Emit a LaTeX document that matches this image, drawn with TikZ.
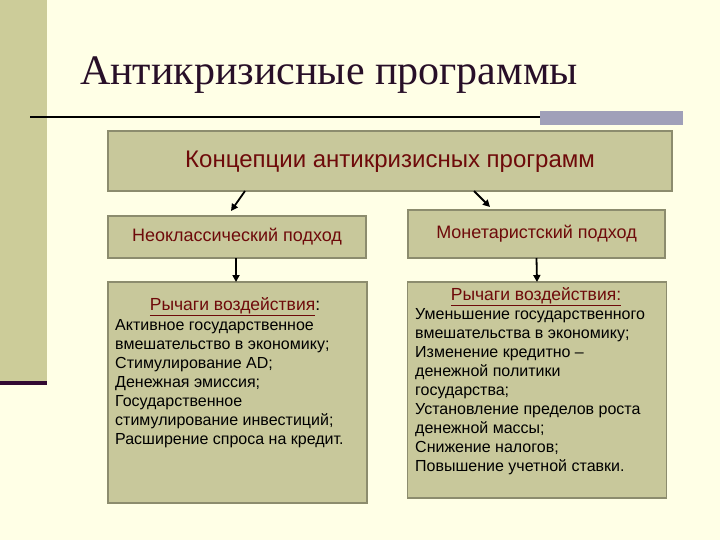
\documentclass[tikz,border=0pt]{standalone}
\usepackage{fontspec}
\setmainfont{Liberation Sans}
\newfontfamily\titlefont{Liberation Serif}
\usetikzlibrary{arrows.meta,calc}
\definecolor{bg}{RGB}{255,255,230}
\definecolor{olive}{RGB}{204,204,153}
\definecolor{boxfill}{RGB}{200,200,155}
\definecolor{boxline}{RGB}{140,140,110}
\definecolor{darkred}{RGB}{110,10,10}
\definecolor{titlecol}{RGB}{40,15,40}
\definecolor{barpurple}{RGB}{50,10,50}
\definecolor{graybar}{RGB}{160,160,185}
\tikzset{
  box/.style={draw=boxline, line width=1.6pt, fill=boxfill, inner sep=0pt, outer sep=0pt},
  hdr/.style={text=darkred, font=\fontsize{18}{21}\selectfont},
  lever/.style={text=darkred, font=\fontsize{17.5}{21}\selectfont},
  body/.style={anchor=north west, align=left, inner sep=0pt, font=\fontsize{16}{19}\selectfont},
  arr/.style={-{Triangle[length=7pt,width=7pt]}, line width=1.8pt, black}
}
\begin{document}
\begin{tikzpicture}[x=1pt,y=-1pt]
\useasboundingbox (0,0) rectangle (720,540);
\fill[bg] (0,0) rectangle (720,540);
% left bar
\fill[olive] (0,0) rectangle (47,381);
\fill[barpurple] (0,381) rectangle (47,385);
% title
\node[anchor=base west, inner sep=0pt, text=titlecol, font=\titlefont\fontsize{42}{48}\selectfont] (title) at (80,85) {Антикризисные программы};
% rule
\draw[line width=2pt, black] (30,117) -- (540,117);
\fill[graybar] (540,111) rectangle (683,125);
% boxes
\node[box, minimum width=564pt, minimum height=60pt] (top) at (390,161) {};
\node[text=darkred, font=\fontsize{24}{28}\selectfont] at ([yshift=-1pt]top.center) {Концепции антикризисных программ};
\node[box, minimum width=258pt, minimum height=42pt] (lm) at (237,237) {};
\node[hdr] at (lm.center) {Неоклассический подход};
\node[box, minimum width=257pt, minimum height=48pt] (rm) at (536.5,234) {};
\node[hdr] at (rm.center) {Монетаристский подход};
\node[box, minimum width=259pt, minimum height=221pt] (lb) at (237.5,392.5) {};
\node[box, minimum width=259pt, minimum height=216pt] (rb) at (537,390) {};
% left bottom text
\node[lever, anchor=base] (lh) at (235,310) {\underline{Рычаги воздействия}\textcolor{black}{:}};
\node[body] (lt) at (115,319) {Активное государственное\\вмешательство в экономику;\\Стимулирование AD;\\Денежная эмиссия;\\Государственное\\стимулирование инвестиций;\\Расширение спроса на кредит.};
% right bottom text
\node[lever, anchor=base] (rh) at (536,300) {\underline{Рычаги воздействия:}};
\node[body] (rt) at (415,308) {Уменьшение государственного\\вмешательства в экономику;\\Изменение кредитно --\\денежной политики\\государства;\\Установление пределов роста\\денежной массы;\\Снижение налогов;\\Повышение учетной ставки.};
% arrows
\draw[arr] ([xshift=137pt]top.south west) -- ([xshift=123pt,yshift=-20pt]top.south west);
\draw[arr] ([xshift=366pt]top.south west) -- ([xshift=382pt,yshift=-16pt]top.south west);
\draw[arr] ([xshift=-1pt]lm.south) -- ([xshift=-1.5pt]lb.north);
\draw[arr] (rm.south) -- (rb.north);
\end{tikzpicture}
\end{document}
